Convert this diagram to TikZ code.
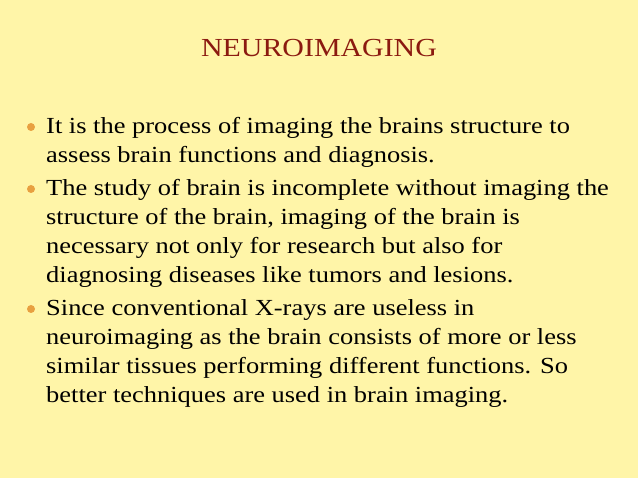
\documentclass[tikz,border=0pt]{standalone}
\usepackage{fontspec}
\setmainfont[FakeStretch=1.15]{Liberation Serif}
\definecolor{bg}{HTML}{FFF5A8}
\definecolor{ttl}{HTML}{8B1A10}
\definecolor{bul}{HTML}{E8A040}
\begin{document}
\begin{tikzpicture}[x=1pt,y=-1pt,
  line/.style={anchor=base west,inner sep=0,font=\fontsize{23}{23}\selectfont},
  dot/.style={circle,fill=bul,inner sep=0,minimum size=8}]
\fill[bg] (0,0) rectangle (638,478);
\useasboundingbox (0,0) rectangle (638,478);
\node[anchor=base,inner sep=0,text=ttl,font=\fontsize{26}{26}\selectfont] (title) at (319,57) {NEUROIMAGING};
\node[dot] (b1) at (31,127) {};
\node[line] (l1) at (46,134) {It is the process of imaging the brains structure to};
\node[line] (l2) at (46,163) {assess brain functions and diagnosis.};
\node[dot] (b2) at (31,189) {};
\node[line] (l3) at (46,196) {The study of brain is incomplete without imaging the};
\node[line] (l4) at (46,225) {structure of the brain, imaging of the brain is};
\node[line] (l5) at (46,254) {necessary not only for research but also for};
\node[line] (l6) at (46,283) {diagnosing diseases like tumors and lesions.};
\node[dot] (b3) at (31,309) {};
\node[line] (l7) at (46,316) {Since conventional X-rays are useless in};
\node[line] (l8) at (46,345) {neuroimaging as the brain consists of more or less};
\node[line] (l9) at (46,374) {similar tissues performing different functions. So};
\node[line] (l10) at (46,403) {better techniques are used in brain imaging.};
\end{tikzpicture}
\end{document}
